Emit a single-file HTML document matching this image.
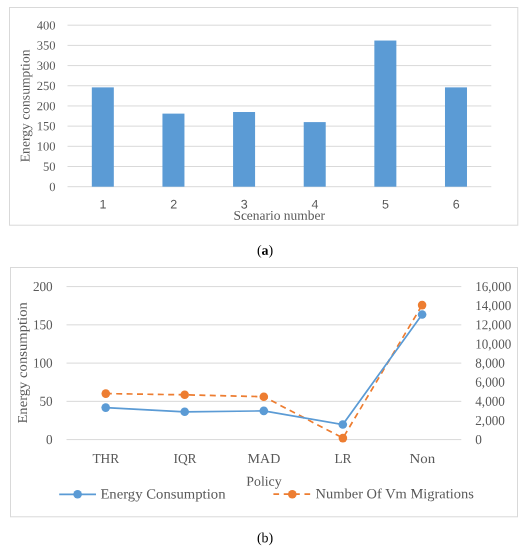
<!DOCTYPE html>
<html><head><meta charset="utf-8">
<title>Energy consumption charts</title>
<style>
html,body{margin:0;padding:0;background:#fff;}
body{width:526px;height:550px;overflow:hidden;position:relative;}
svg{display:block;position:absolute;left:0;top:0;text-rendering:geometricPrecision;}
</style></head><body>
<svg width="526" height="550" viewBox="0 0 526 550">
<rect x="0" y="0" width="526" height="550" fill="#fff"/>
<rect x="9.5" y="7.5" width="508.3" height="217.7" fill="#fff" stroke="#d9d9d9" stroke-width="1"/>
<g stroke="#d9d9d9" stroke-width="1">
<line x1="67.5" x2="491.3" y1="25.2" y2="25.2"/>
<line x1="67.5" x2="491.3" y1="45.39" y2="45.39"/>
<line x1="67.5" x2="491.3" y1="65.58" y2="65.58"/>
<line x1="67.5" x2="491.3" y1="85.76" y2="85.76"/>
<line x1="67.5" x2="491.3" y1="105.95" y2="105.95"/>
<line x1="67.5" x2="491.3" y1="126.14" y2="126.14"/>
<line x1="67.5" x2="491.3" y1="146.32" y2="146.32"/>
<line x1="67.5" x2="491.3" y1="166.51" y2="166.51"/>
<line x1="67.5" x2="491.3" y1="186.7" y2="186.7"/>
</g>
<g fill="#5b9bd5">
<rect x="91.82" y="87.38" width="22" height="99.32"/>
<rect x="162.45" y="113.62" width="22" height="73.08"/>
<rect x="233.08" y="112.01" width="22" height="74.69"/>
<rect x="303.72" y="122.10" width="22" height="64.60"/>
<rect x="374.35" y="40.54" width="22" height="146.16"/>
<rect x="444.98" y="87.38" width="22" height="99.32"/>
</g>
<text x="55.6" y="29.45" transform="rotate(0.03 55.6 29.45)" font-family="Liberation Serif, serif" font-size="12.6" fill="#595959" text-anchor="end">400</text>
<text x="55.6" y="49.64" transform="rotate(0.03 55.6 49.64)" font-family="Liberation Serif, serif" font-size="12.6" fill="#595959" text-anchor="end">350</text>
<text x="55.6" y="69.83" transform="rotate(0.03 55.6 69.83)" font-family="Liberation Serif, serif" font-size="12.6" fill="#595959" text-anchor="end">300</text>
<text x="55.6" y="90.01" transform="rotate(0.03 55.6 90.01)" font-family="Liberation Serif, serif" font-size="12.6" fill="#595959" text-anchor="end">250</text>
<text x="55.6" y="110.2" transform="rotate(0.03 55.6 110.2)" font-family="Liberation Serif, serif" font-size="12.6" fill="#595959" text-anchor="end">200</text>
<text x="55.6" y="130.39" transform="rotate(0.03 55.6 130.39)" font-family="Liberation Serif, serif" font-size="12.6" fill="#595959" text-anchor="end">150</text>
<text x="55.6" y="150.57" transform="rotate(0.03 55.6 150.57)" font-family="Liberation Serif, serif" font-size="12.6" fill="#595959" text-anchor="end">100</text>
<text x="55.6" y="170.76" transform="rotate(0.03 55.6 170.76)" font-family="Liberation Serif, serif" font-size="12.6" fill="#595959" text-anchor="end">50</text>
<text x="55.6" y="190.95" transform="rotate(0.03 55.6 190.95)" font-family="Liberation Serif, serif" font-size="12.6" fill="#595959" text-anchor="end">0</text>
<text x="103.02" y="208.6" transform="rotate(0.03 103.02 208.6)" font-family="Liberation Sans, sans-serif" font-size="12.5" fill="#595959" text-anchor="middle">1</text>
<text x="173.65" y="208.6" transform="rotate(0.03 173.65 208.6)" font-family="Liberation Sans, sans-serif" font-size="12.5" fill="#595959" text-anchor="middle">2</text>
<text x="244.28" y="208.6" transform="rotate(0.03 244.28 208.6)" font-family="Liberation Sans, sans-serif" font-size="12.5" fill="#595959" text-anchor="middle">3</text>
<text x="314.92" y="208.6" transform="rotate(0.03 314.92 208.6)" font-family="Liberation Sans, sans-serif" font-size="12.5" fill="#595959" text-anchor="middle">4</text>
<text x="385.55" y="208.6" transform="rotate(0.03 385.55 208.6)" font-family="Liberation Sans, sans-serif" font-size="12.5" fill="#595959" text-anchor="middle">5</text>
<text x="456.18" y="208.6" transform="rotate(0.03 456.18 208.6)" font-family="Liberation Sans, sans-serif" font-size="12.5" fill="#595959" text-anchor="middle">6</text>
<text x="233.4" y="219.8" transform="rotate(0.03 233.4 219.8)" font-family="Liberation Serif, serif" font-size="13.4" fill="#595959" textLength="91.6" lengthAdjust="spacingAndGlyphs">Scenario number</text>
<text transform="translate(29.6,162.2) rotate(-90.03)" font-family="Liberation Serif, serif" font-size="13.4" fill="#595959" textLength="112.7" lengthAdjust="spacingAndGlyphs">Energy consumption</text>
<text x="265.1" y="254.7" transform="rotate(0.03 265.1 254.7)" font-family="Liberation Serif, serif" font-size="14" fill="#000" text-anchor="middle">(<tspan font-weight="bold">a</tspan>)</text>
<rect x="10.5" y="267.5" width="507" height="249.3" fill="#fff" stroke="#d9d9d9" stroke-width="1"/>
<g stroke="#d9d9d9" stroke-width="1">
<line x1="66.5" x2="461.3" y1="286.6" y2="286.6"/>
<line x1="66.5" x2="461.3" y1="324.85" y2="324.85"/>
<line x1="66.5" x2="461.3" y1="363.1" y2="363.1"/>
<line x1="66.5" x2="461.3" y1="401.35" y2="401.35"/>
<line x1="66.5" x2="461.3" y1="439.6" y2="439.6"/>
</g>
<polyline fill="none" stroke="#ed7d31" stroke-width="1.7" stroke-dasharray="6,4.4" points="105.8,393.6 184.7,394.8 263.8,396.7 342.9,438.1 422.1,305.1"/>
<g fill="#ed7d31"><circle cx="105.8" cy="393.6" r="4.3"/><circle cx="184.7" cy="394.8" r="4.3"/><circle cx="263.8" cy="396.7" r="4.3"/><circle cx="342.9" cy="438.1" r="4.3"/><circle cx="422.1" cy="305.1" r="4.3"/></g>
<polyline fill="none" stroke="#5b9bd5" stroke-width="1.7" points="105.7,407.6 184.7,411.8 263.8,410.9 342.8,424.5 422.1,314.5"/>
<g fill="#5b9bd5"><circle cx="105.7" cy="407.6" r="4.3"/><circle cx="184.7" cy="411.8" r="4.3"/><circle cx="263.8" cy="410.9" r="4.3"/><circle cx="342.8" cy="424.5" r="4.3"/><circle cx="422.1" cy="314.5" r="4.3"/></g>
<text x="52.7" y="291.1" transform="rotate(0.03 52.7 291.1)" font-family="Liberation Serif, serif" font-size="13.7" fill="#595959" text-anchor="end" textLength="19.8" lengthAdjust="spacingAndGlyphs">200</text>
<text x="52.7" y="329.35" transform="rotate(0.03 52.7 329.35)" font-family="Liberation Serif, serif" font-size="13.7" fill="#595959" text-anchor="end" textLength="19.8" lengthAdjust="spacingAndGlyphs">150</text>
<text x="52.7" y="367.6" transform="rotate(0.03 52.7 367.6)" font-family="Liberation Serif, serif" font-size="13.7" fill="#595959" text-anchor="end" textLength="19.8" lengthAdjust="spacingAndGlyphs">100</text>
<text x="52.7" y="405.85" transform="rotate(0.03 52.7 405.85)" font-family="Liberation Serif, serif" font-size="13.7" fill="#595959" text-anchor="end" textLength="13.2" lengthAdjust="spacingAndGlyphs">50</text>
<text x="52.7" y="444.1" transform="rotate(0.03 52.7 444.1)" font-family="Liberation Serif, serif" font-size="13.7" fill="#595959" text-anchor="end" textLength="6.6" lengthAdjust="spacingAndGlyphs">0</text>
<text x="475.3" y="291.0" transform="rotate(0.03 475.3 291.0)" font-family="Liberation Serif, serif" font-size="13.7" fill="#595959" textLength="35.9" lengthAdjust="spacingAndGlyphs">16,000</text>
<text x="475.3" y="310.12" transform="rotate(0.03 475.3 310.12)" font-family="Liberation Serif, serif" font-size="13.7" fill="#595959" textLength="35.9" lengthAdjust="spacingAndGlyphs">14,000</text>
<text x="475.3" y="329.25" transform="rotate(0.03 475.3 329.25)" font-family="Liberation Serif, serif" font-size="13.7" fill="#595959" textLength="35.9" lengthAdjust="spacingAndGlyphs">12,000</text>
<text x="475.3" y="348.38" transform="rotate(0.03 475.3 348.38)" font-family="Liberation Serif, serif" font-size="13.7" fill="#595959" textLength="35.9" lengthAdjust="spacingAndGlyphs">10,000</text>
<text x="475.3" y="367.5" transform="rotate(0.03 475.3 367.5)" font-family="Liberation Serif, serif" font-size="13.7" fill="#595959" textLength="29.6" lengthAdjust="spacingAndGlyphs">8,000</text>
<text x="475.3" y="386.62" transform="rotate(0.03 475.3 386.62)" font-family="Liberation Serif, serif" font-size="13.7" fill="#595959" textLength="29.6" lengthAdjust="spacingAndGlyphs">6,000</text>
<text x="475.3" y="405.75" transform="rotate(0.03 475.3 405.75)" font-family="Liberation Serif, serif" font-size="13.7" fill="#595959" textLength="29.6" lengthAdjust="spacingAndGlyphs">4,000</text>
<text x="475.3" y="424.88" transform="rotate(0.03 475.3 424.88)" font-family="Liberation Serif, serif" font-size="13.7" fill="#595959" textLength="29.6" lengthAdjust="spacingAndGlyphs">2,000</text>
<text x="475.3" y="444.0" transform="rotate(0.03 475.3 444.0)" font-family="Liberation Serif, serif" font-size="13.7" fill="#595959" textLength="6.6" lengthAdjust="spacingAndGlyphs">0</text>
<text x="92.4" y="463.1" transform="rotate(0.03 92.4 463.1)" font-family="Liberation Serif, serif" font-size="13.7" fill="#595959" textLength="26.8" lengthAdjust="spacingAndGlyphs">THR</text>
<text x="173.4" y="463.1" transform="rotate(0.03 173.4 463.1)" font-family="Liberation Serif, serif" font-size="13.7" fill="#595959" textLength="23.2" lengthAdjust="spacingAndGlyphs">IQR</text>
<text x="247.6" y="463.1" transform="rotate(0.03 247.6 463.1)" font-family="Liberation Serif, serif" font-size="13.7" fill="#595959" textLength="32.7" lengthAdjust="spacingAndGlyphs">MAD</text>
<text x="334.4" y="463.1" transform="rotate(0.03 334.4 463.1)" font-family="Liberation Serif, serif" font-size="13.7" fill="#595959" textLength="17.2" lengthAdjust="spacingAndGlyphs">LR</text>
<text x="409.5" y="463.1" transform="rotate(0.03 409.5 463.1)" font-family="Liberation Serif, serif" font-size="13.7" fill="#595959" textLength="25.7" lengthAdjust="spacingAndGlyphs">Non</text>
<text x="246.3" y="485.8" transform="rotate(0.03 246.3 485.8)" font-family="Liberation Serif, serif" font-size="13.7" fill="#595959" textLength="35.3" lengthAdjust="spacingAndGlyphs">Policy</text>
<text transform="translate(26.9,423.6) rotate(-90.03)" font-family="Liberation Serif, serif" font-size="13.7" fill="#595959" textLength="121.4" lengthAdjust="spacingAndGlyphs">Energy consumption</text>
<line x1="59.2" x2="96" y1="494.3" y2="494.3" stroke="#5b9bd5" stroke-width="1.7"/>
<circle cx="77.6" cy="494.3" r="4.3" fill="#5b9bd5"/>
<text x="100.4" y="498.4" transform="rotate(0.03 100.4 498.4)" font-family="Liberation Serif, serif" font-size="14" fill="#595959" textLength="125.1" lengthAdjust="spacingAndGlyphs">Energy Consumption</text>
<line x1="273.4" x2="310.2" y1="494.2" y2="494.2" stroke="#ed7d31" stroke-width="1.7" stroke-dasharray="5.7,4.65"/>
<circle cx="292.3" cy="494.2" r="4.3" fill="#ed7d31"/>
<text x="315.6" y="498.2" transform="rotate(0.03 315.6 498.2)" font-family="Liberation Serif, serif" font-size="14" fill="#595959" textLength="158.3" lengthAdjust="spacingAndGlyphs">Number Of Vm Migrations</text>
<text x="265.1" y="542.3" transform="rotate(0.03 265.1 542.3)" font-family="Liberation Serif, serif" font-size="14" fill="#000" text-anchor="middle">(b)</text>
</svg>
</body></html>
